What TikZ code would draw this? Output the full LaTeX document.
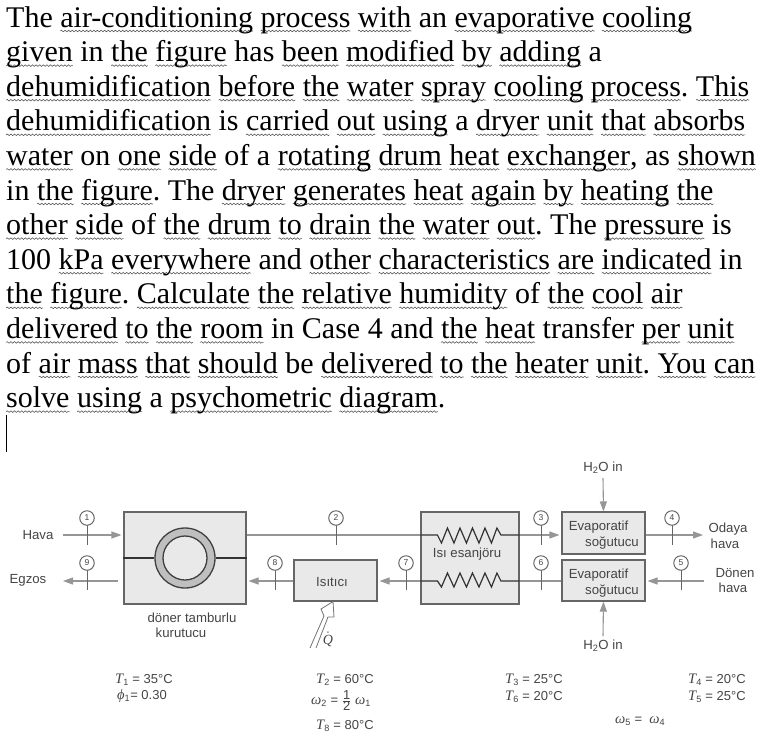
\documentclass[tikz,border=0pt]{standalone}
\usepackage{fontspec}
\usetikzlibrary{arrows.meta,decorations.pathmorphing}
\setmainfont{Liberation Serif}
\newfontfamily\dsans{Liberation Sans}
\definecolor{ink}{HTML}{454545}
\definecolor{flow}{HTML}{969696}
\definecolor{edge}{HTML}{666666}
\definecolor{panel}{HTML}{E9E9E9}
\definecolor{wavec}{HTML}{505050}
\newsavebox{\wvbox}
\newcommand{\wv}[1]{\sbox{\wvbox}{#1}\leavevmode\rlap{\tikz[overlay,x=1pt,y=1pt]\draw[wavec,line width=.55pt,decorate,decoration={snake,segment length=3.6pt,amplitude=.8pt}] (0,-4) -- (\the\wd\wvbox,-4);}\usebox{\wvbox}}
\newcommand{\vsym}[2]{{\rmfamily\itshape\fontsize{14.5}{14}\selectfont #1}\textsubscript{#2}}
\tikzset{
  x=1pt,y=-1pt,
  para/.style={anchor=base west,inner sep=0pt,font=\fontsize{30}{30}\selectfont\frenchspacing,text=black},
  lab/.style={inner sep=0pt,font=\dsans\fontsize{13.2}{13}\selectfont,text=ink},
  vals/.style={anchor=base west,inner sep=0pt,font=\dsans\fontsize{13}{13}\selectfont,text=ink},
  unit/.style={draw=edge,line width=1.1pt,fill=panel,inner sep=0pt},
  num/.style={circle,draw=edge,line width=1pt,fill=white,minimum size=14.5pt,inner sep=0pt,text=ink,font=\dsans\fontsize{8.5}{8}\selectfont},
  stem/.style={draw=edge,line width=1pt},
  flowline/.style={draw=flow,line width=1.1pt},
  flowarrow/.style={draw=flow,line width=1.1pt,-{Triangle[length=10pt,width=7pt,fill=flow]}},
  dark/.style={draw=black!80,line width=1.2pt},
}
\begin{document}
\begin{tikzpicture}
\useasboundingbox (0,0) rectangle (762,737);
\fill[white] (0,0) rectangle (762,737);
% paragraph
\node[para] (l1) at (6,27) {The \wv{air-conditioning} \wv{process} \wv{with} an \wv{evaporative} \wv{cooling}};
\node[para] (l2) at (6,61.6) {\wv{given} in \wv{the} \wv{figure} has \wv{been} \wv{modified} \wv{by} \wv{adding} a};
\node[para] (l3) at (6,96.2) {\wv{dehumidification} \wv{before} \wv{the} \wv{water} \wv{spray} \wv{cooling} \wv{process}. \wv{This}};
\node[para] (l4) at (6,130.8) {\wv{dehumidification} is \wv{carried} \wv{out} \wv{using} a \wv{dryer} \wv{unit} \wv{that} \wv{absorbs}};
\node[para] (l5) at (6,165.4) {\wv{water} on \wv{one} \wv{side} of a \wv{rotating} \wv{drum} \wv{heat} \wv{exchanger}, as \wv{shown}};
\node[para] (l6) at (6,200) {in \wv{the} \wv{figure}. The \wv{dryer} \wv{generates} \wv{heat} \wv{again} \wv{by} \wv{heating} \wv{the}};
\node[para] (l7) at (6,234.6) {\wv{other} \wv{side} of \wv{the} \wv{drum} \wv{to} \wv{drain} \wv{the} \wv{water} \wv{out}. The \wv{pressure} is};
\node[para] (l8) at (6,269.2) {100 \wv{kPa} \wv{everywhere} and \wv{other} \wv{characteristics} \wv{are} \wv{indicated} in};
\node[para] (l9) at (6,303.8) {\wv{the} \wv{figure}. \wv{Calculate} \wv{the} \wv{relative} \wv{humidity} of \wv{the} \wv{cool} \wv{air}};
\node[para] (l10) at (6,338.4) {\wv{delivered} \wv{to} \wv{the} \wv{room} in Case 4 and \wv{the} \wv{heat} transfer \wv{per} \wv{unit}};
\node[para] (l11) at (6,373) {of \wv{air} \wv{mass} \wv{that} \wv{should} be \wv{delivered} \wv{to} \wv{the} \wv{heater} \wv{unit}. \wv{You} \wv{can}};
\node[para] (l12) at (6,407.6) {\wv{solve} \wv{using} a \wv{psychometric} \wv{diagram}.};
\coordinate (cur1) at (6,415);
\coordinate (cur2) at (6,452);
\draw[black,line width=.8pt] (cur1) -- (cur2);
% units
\node[unit,minimum width=122pt,minimum height=92pt] (drum) at (185,558) {};
\node[unit,minimum width=83pt,minimum height=41pt] (heater) at (335.5,580.5) {};
\node[unit,minimum width=98pt,minimum height=92pt] (hx) at (470,558) {};
\node[unit,minimum width=83pt,minimum height=42pt] (evt) at (603.5,533) {};
\node[unit,minimum width=83pt,minimum height=41pt] (evb) at (603.5,580.5) {};
% drum
\node[circle,draw=black!75,line width=1.3pt,fill=black!25,minimum size=60pt,inner sep=0pt] (ringo) at (drum.center) {};
\node[circle,draw=black!75,line width=1.3pt,fill=panel,minimum size=44pt,inner sep=0pt] (ringi) at (drum.center) {};
\draw[dark] (drum.west) -- (ringo.west);
\draw[dark] (ringo.east) -- (drum.east);
% rails
\coordinate (yt) at (0,535);
\coordinate (yb) at (0,581);
\coordinate (airin) at (63,535);
\coordinate (exh) at (63,581);
\coordinate (roomo) at (703,535);
\coordinate (retn) at (704,581);
\coordinate (h2ot) at (603,478);
\coordinate (h2ob) at (603,636);
% flows
\draw[flowarrow] (airin) -- ([xshift=-2pt]drum.west|-yt);
\draw[flowarrow] ([xshift=-5pt]drum.west|-yb) -- (exh);
\draw[flowline] (drum.east|-yt) -- (hx.west|-yt);
\draw[flowarrow] (hx.east|-yt) -- ([xshift=-2pt]evt.west|-yt);
\draw[flowarrow] (evt.east|-yt) -- (roomo);
\draw[flowarrow] (retn) -- ([xshift=2pt]evb.east|-yb);
\draw[flowline] (evb.west|-yb) -- (hx.east|-yb);
\draw[flowarrow] (hx.west|-yb) -- ([xshift=2pt]heater.east|-yb);
\draw[flowarrow] (heater.west|-yb) -- ([xshift=2pt]drum.east|-yb);
\draw[flowarrow] (h2ot) -- (evt.north);
\draw[flowarrow] (h2ob) -- (evb.south);
% resistors
\draw[dark,line join=miter] (hx.west|-yt) -- ++(17,0) -- ++(4,8) -- ++(6,-15) -- ++(6.5,15) -- ++(6,-15) -- ++(6.5,15) -- ++(6,-15) -- ++(6.5,15) -- ++(6,-15) -- ++(6.5,15) -- ++(5.5,-15) -- ++(4,7) -- (hx.east|-yt);
\draw[dark,line join=miter] (hx.west|-yb) -- ++(17,0) -- ++(4,6) -- ++(6,-14) -- ++(6.5,14) -- ++(6,-14) -- ++(6.5,14) -- ++(6,-14) -- ++(6.5,14) -- ++(6,-14) -- ++(6.5,14) -- ++(5.5,-14) -- ++(4,8) -- (hx.east|-yb);
% markers
\foreach \n/\x/\y in {1/87/518,2/336/518,3/541/518,4/672/518,5/681/563,6/541/563,7/406/563,8/275/563,9/87/563}{
  \coordinate (e\n) at (\x,\y+27);
  \draw[stem] (\x,\y) -- (e\n);
  \node[num] (m\n) at (\x,\y) {\n};
}
% labels
\node[lab] (hava) at (38,535) {Hava};
\node[lab] (egz) at (28,580) {Egzos};
\node[lab] (doner) at (192,618) {döner tamburlu};
\node[lab,anchor=west] (kur) at (155.5,633) {kurutucu};
\node[lab] (isi) at (332,582) {Isıtıcı};
\node[lab] (esan) at (467,554) {Isı esanjöru};
\node[lab] (e1) at (598.5,527) {Evaporatif};
\node[lab] (s1) at (612,543) {soğutucu};
\node[lab] (e2) at (598.5,575) {Evaporatif};
\node[lab] (s2) at (612,591) {soğutucu};
\node[lab] (ho1) at (603,468) {H\textsubscript{2}O in};
\node[lab] (ho2) at (603,646) {H\textsubscript{2}O in};
\node[lab] (od) at (728,529) {Odaya};
\node[lab] (ha) at (725,544) {hava};
\node[lab] (don) at (735,573) {Dönen};
\node[lab] (hb) at (733,588) {hava};
% heat input
\coordinate (qtip) at (heater.south -| 333,0);
\coordinate (qsa) at (310,648);
\coordinate (qsb) at (316,648);
\draw[draw=black!55,line width=.8pt,line join=miter] (qsa) -- (324,616) -- (321,609) -- (qtip) -- (334,617) -- (328,617) -- (qsb);
\node[inner sep=0pt,font=\fontsize{14}{14}\selectfont,text=ink] (q) at (328,639.5) {$\dot{\mbox{\itshape Q}}$};
% values
\node[vals] (t1) at (115,683.5) {\vsym{T}{1} = 35°C};
\node[vals] (p1) at (117,699.5) {\vsym{ϕ}{1}= 0.30};
\node[vals] (t2) at (316,683.5) {\vsym{T}{2} = 60°C};
\node[vals] (w2) at (311,704) {\vsym{ω}{2} = $\frac{\mbox{1}}{\mbox{2}}$ \vsym{ω}{1}};
\node[vals] (t8) at (316,729) {\vsym{T}{8} = 80°C};
\node[vals] (t3) at (505,683.5) {\vsym{T}{3} = 25°C};
\node[vals] (t6) at (505,700.5) {\vsym{T}{6} = 20°C};
\node[vals] (t4) at (688,683.5) {\vsym{T}{4} = 20°C};
\node[vals] (t5) at (688,700.5) {\vsym{T}{5} = 25°C};
\node[vals] (w5) at (615,723) {\vsym{ω}{5} = \ \vsym{ω}{4}};
\end{tikzpicture}
\end{document}
